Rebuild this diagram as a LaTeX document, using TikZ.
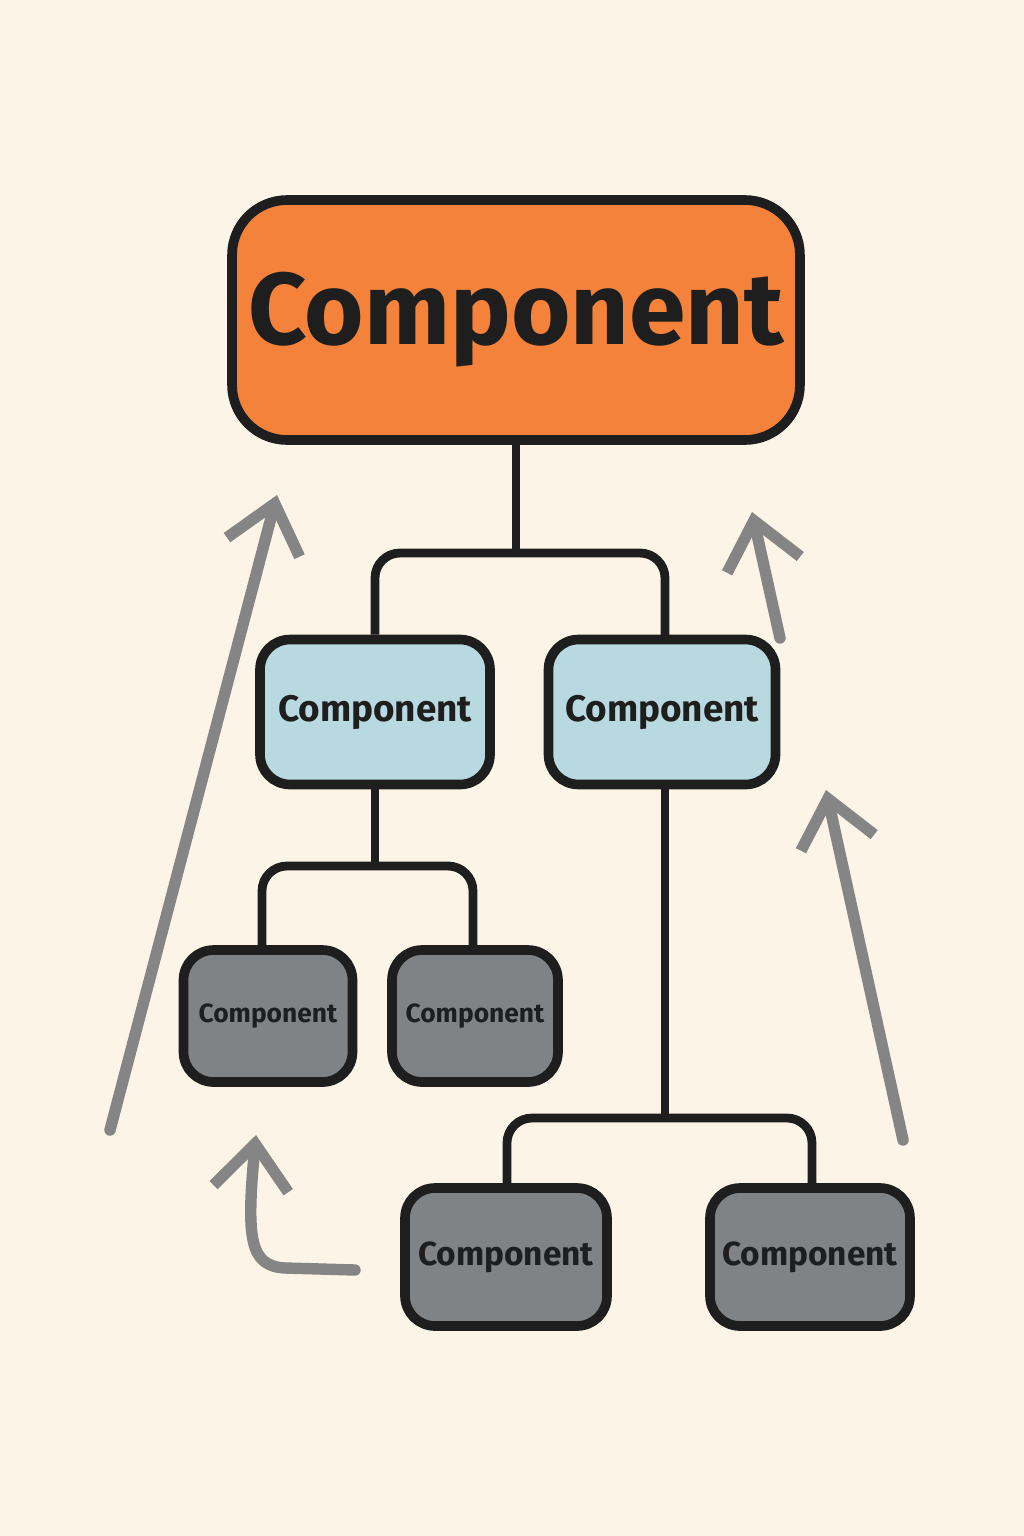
\documentclass[tikz,border=0pt]{standalone}
\usepackage{fontspec}
\setmainfont{Fira Sans}
\usetikzlibrary{arrows.meta}
\definecolor{bg}{HTML}{FCF4E6}
\definecolor{org}{HTML}{F5823A}
\definecolor{lblue}{HTML}{B9D9E0}
\definecolor{gbox}{HTML}{7F8385}
\definecolor{arr}{HTML}{858585}
\definecolor{ink}{HTML}{1E1E1E}
\begin{document}
\begin{tikzpicture}[x=0.02cm,y=-0.02cm,
 box/.style={draw=ink,line width=5.5pt,rounded corners=0.6cm,inner sep=0pt,text=ink,font=\bfseries},
 link/.style={draw=ink,line width=5pt,rounded corners=0.5cm},
 garrow/.style={draw=arr,line width=6.5pt,line cap=round,line join=round,-{Straight Barb[length=0.9cm,width=1.5cm,line width=6.5pt]}}]
\fill[bg] (0,0) rectangle (1024,1536);
\useasboundingbox (0,0) rectangle (1024,1536);
\node[box,fill=org,minimum width=11.36cm,minimum height=4.8cm,rounded corners=1.1cm,font=\bfseries\fontsize{58}{60}\selectfont] (top) at (516,320) {Component};
\node[box,fill=lblue,minimum width=4.6cm,minimum height=2.9cm,font=\bfseries\fontsize{21}{24}\selectfont] (ml) at (375,712) {Component};
\node[box,fill=lblue,minimum width=4.54cm,minimum height=2.9cm,font=\bfseries\fontsize{21}{24}\selectfont] (mr) at (662,712) {Component};
\node[box,fill=gbox,minimum width=3.38cm,minimum height=2.64cm,font=\bfseries\fontsize{15}{18}\selectfont] (g1) at (268,1016) {Component};
\node[box,fill=gbox,minimum width=3.32cm,minimum height=2.64cm,font=\bfseries\fontsize{15}{18}\selectfont] (g2) at (475,1016) {Component};
\node[box,fill=gbox,minimum width=4.04cm,minimum height=2.76cm,font=\bfseries\fontsize{19}{22}\selectfont] (b1) at (506,1257) {Component};
\node[box,fill=gbox,minimum width=4.0cm,minimum height=2.76cm,font=\bfseries\fontsize{19}{22}\selectfont] (b2) at (810,1257) {Component};
\coordinate (j1) at (516,553);
\coordinate (j2) at (375,866);
\coordinate (j3) at (665,1118);
\draw[link] (top.south) -- (j1);
\draw[link] (ml.north) -- (375,553) -- (665,553) -- (665,640);
\draw[link] (ml.south) -- (j2);
\draw[link] (262,950) -- (262,866) -- (473,866) -- (473,950);
\draw[link] (665,785) -- (j3);
\draw[link] (507,1188) -- (507,1118) -- (812,1118) -- (812,1188);
\coordinate (a1s) at (110,1130); \coordinate (a1e) at (277,495);
\coordinate (a2s) at (780,638); \coordinate (a2e) at (752,512);
\coordinate (a3s) at (903,1140); \coordinate (a3e) at (826,790);
\coordinate (a4s) at (355,1270); \coordinate (a4e) at (256,1135);
\draw[garrow] (a1s) -- (a1e);
\draw[garrow] (a2s) -- (a2e);
\draw[garrow] (a3s) -- (a3e);
\draw[garrow] (a4s) -- (285,1268) .. controls (250,1266) and (246,1240) .. (a4e);
\end{tikzpicture}
\end{document}
